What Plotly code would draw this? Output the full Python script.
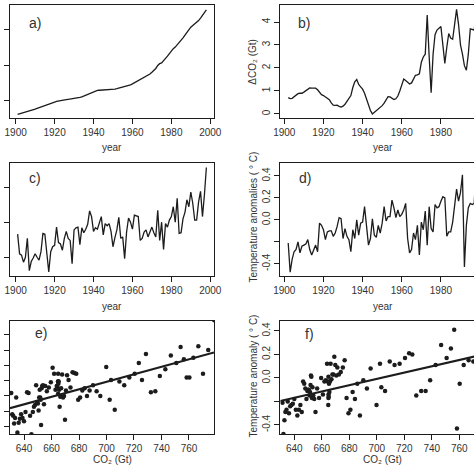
import numpy as np
import plotly.graph_objects as go

# ---------------- data ----------------
years = list(range(1901, 1999))          # panels a, c, e
years_d = list(range(1902, 1999))        # panels b, d, f

co2 = [630.7, 631.4, 632.1, 632.8, 633.5, 634.3, 635.2, 636.1, 637.0, 637.9,
       638.9, 640.0, 641.1, 642.2, 643.3, 644.4, 645.4, 646.4, 647.2, 648.0,
       648.8, 649.5, 650.1, 650.6, 651.0, 651.4, 651.8, 652.1, 652.4, 652.8,
       653.2, 653.8, 654.5, 655.4, 656.6, 658.0, 659.5, 660.8, 661.9, 662.9,
       663.8, 664.4, 664.7, 664.8, 664.8, 664.9, 665.0, 665.2, 665.5, 665.9,
       666.4, 667.0, 667.7, 668.4, 669.1, 669.8, 670.5, 671.3, 672.4, 673.8,
       675.3, 676.6, 678.0, 679.4, 680.8, 682.4, 684.1, 685.8, 687.7, 690.2,
       692.8, 695.5, 699.8, 702.3, 703.3, 706.0, 709.4, 712.9, 716.6, 720.5,
       723.5, 725.8, 728.7, 732.3, 735.5, 738.8, 742.8, 746.8, 750.8, 753.9,
       756.3, 758.3, 760.3, 763.2, 766.8, 770.2, 774.0, 778.4]

dco2 = [0.71, 0.67, 0.68, 0.74, 0.82, 0.88, 0.90, 0.90, 0.95, 1.02,
        1.08, 1.13, 1.12, 1.12, 1.12, 1.05, 0.95, 0.84, 0.80, 0.75,
        0.68, 0.62, 0.48, 0.38, 0.37, 0.38, 0.33, 0.30, 0.34, 0.42,
        0.55, 0.68, 0.80, 1.15, 1.40, 1.50, 1.28, 1.18, 1.08, 0.90,
        0.65, 0.38, 0.15, 0.00, 0.07, 0.12, 0.18, 0.26, 0.36, 0.47,
        0.60, 0.75, 0.74, 0.70, 0.63, 0.66, 0.78, 1.00, 1.30, 1.52,
        1.45, 1.38, 1.30, 1.35, 1.50, 1.68, 1.70, 1.75, 2.25, 2.48,
        2.60, 4.30, 2.50, 0.92, 2.60, 3.45, 3.65, 3.75, 3.80, 3.00,
        2.20, 2.90, 3.50, 3.30, 3.25, 3.90, 4.55, 3.90, 3.00, 2.60,
        2.10, 1.90, 2.60, 3.70, 3.68, 3.65, 4.40]

temp_c = [-0.16, -0.44, -0.46, -0.56, -0.49, -0.22, -0.68, -0.55, -0.50, -0.44,
          -0.49, -0.53, -0.41, -0.15, -0.16, -0.46, -0.70, -0.41, -0.34, -0.32,
          -0.06, -0.28, -0.30, -0.39, -0.22, -0.12, -0.22, -0.25, -0.58, -0.10,
          -0.07, -0.06, -0.31, -0.07, -0.14, -0.09, -0.02, 0.17, 0.09, -0.12,
          -0.07, -0.09, -0.01, 0.09, -0.17, -0.01, -0.04, -0.01, -0.12, -0.34,
          -0.21, -0.10, 0.08, -0.22, -0.20, -0.51, -0.13, 0.07, 0.01, -0.09,
          0.11, 0.10, 0.09, -0.25, -0.22, -0.13, -0.10, -0.20, -0.13, -0.06,
          -0.14, -0.20, 0.18, -0.25, 0.01, -0.38, -0.01, -0.06, 0.04, 0.09,
          0.23, 0.01, 0.35, -0.15, -0.14, 0.06, 0.15, 0.33, 0.23, 0.44,
          0.28, 0.04, 0.04, 0.30, 0.45, 0.09, 0.40, 0.79]

temp_d = [-0.21, -0.477, -0.36, -0.29, -0.27, -0.20, -0.30, -0.24, -0.23, -0.22,
          -0.18, -0.27, -0.32, -0.27, -0.23, -0.29, -0.03, -0.05, -0.09, -0.18,
          -0.11, -0.10, -0.10, -0.15, -0.12, -0.06, 0.02, 0.01, -0.17, -0.08,
          -0.15, -0.18, -0.29, -0.09, -0.17, 0.00, -0.14, -0.03, -0.02, 0.12,
          -0.03, -0.23, -0.17, 0.01, -0.14, -0.16, -0.05, -0.12, -0.03, 0.12,
          -0.01, 0.03, 0.03, 0.18, 0.11, 0.02, 0.09, 0.03, 0.05, 0.09,
          0.15, -0.17, -0.30, -0.27, -0.12, -0.18, -0.05, -0.32, -0.02, -0.09,
          0.08, -0.23, 0.12, -0.08, -0.11, 0.14, 0.11, 0.12, 0.17, 0.21,
          0.20, -0.15, -0.11, -0.11, -0.02, 0.11, 0.28, 0.17, 0.25, 0.41,
          -0.43, -0.05, 0.11, 0.15, 0.14, 0.15, 0.485]

year_ticks = [1900, 1920, 1940, 1960, 1980, 2000]
co2_ticks = [640, 660, 680, 700, 720, 740, 760]
co2_axis_ticks = [650, 700, 750]
dco2_ticks = [0, 1, 2, 3, 4]
c_ticks = [-0.5, 0.0, 0.5]
e_ticks = [-0.6, -0.4, -0.2, 0.0, 0.2, 0.4, 0.6]
d_ticks = [-0.4, 0.0, 0.2, 0.4]          # labelled ticks
d_ticktext = ["-0.4", "0.0", "0.2", "0.4"]
d_unlabelled = [-0.2]                    # tick drawn, label dropped (as in R)

# ---------------- figure ----------------
INK = "#1c1c1c"
TXT = "#333333"
FONT = "Liberation Sans, Arial, sans-serif"
FS = 10

co2_f = co2[1:]
fit_e = np.polyfit(co2, temp_c, 1)
fit_f = np.polyfit(co2_f, temp_d, 1)
co2_range = [629.8, 778.2]

fig = go.Figure()
line = dict(color=INK, width=1.3)
fig.add_trace(go.Scatter(x=years, y=co2, mode="lines", line=line, xaxis="x", yaxis="y"))
fig.add_trace(go.Scatter(x=years_d, y=dco2, mode="lines", line=line, xaxis="x2", yaxis="y2"))
fig.add_trace(go.Scatter(x=years, y=temp_c, mode="lines", line=line, xaxis="x3", yaxis="y3"))
fig.add_trace(go.Scatter(x=years_d, y=temp_d, mode="lines", line=line, xaxis="x4", yaxis="y4"))
fig.add_trace(go.Scatter(x=co2, y=temp_c, mode="markers", marker=dict(color=INK, size=4.5),
                         xaxis="x5", yaxis="y5"))
fig.add_trace(go.Scatter(x=co2_range, y=list(np.polyval(fit_e, co2_range)), mode="lines",
                         line=dict(color=INK, width=2.2), xaxis="x5", yaxis="y5"))
fig.add_trace(go.Scatter(x=co2_f, y=temp_d, mode="markers", marker=dict(color=INK, size=4.5),
                         xaxis="x6", yaxis="y6"))
fig.add_trace(go.Scatter(x=co2_range, y=list(np.polyval(fit_f, co2_range)), mode="lines",
                         line=dict(color=INK, width=2.2), xaxis="x6", yaxis="y6"))

W = H = 474
LEFT = [10 / W, 214 / W]
RIGHT = [280.3 / W, 1.0]
ROWS = [[1 - 118.3 / H, 1 - 5 / H], [1 - 276.3 / H, 1 - 163.3 / H], [1 - 434 / H, 1 - 321 / H]]


def ax(domain, rng, tickvals, anchor, mirror=True, ticktext=None, labels=True, angle=None,
       minor_vals=None):
    d = dict(domain=domain, range=rng, tickmode="array", tickvals=tickvals, anchor=anchor,
             showline=True, linecolor=INK, linewidth=1, mirror=mirror,
             ticks="outside", ticklen=5, tickwidth=1, tickcolor=INK,
             showgrid=False, zeroline=False, showticklabels=labels,
             tickfont=dict(family=FONT, size=FS, color=TXT), automargin=False)
    if ticktext is not None:
        d["ticktext"] = ticktext
    if angle is not None:
        d["tickangle"] = angle
    if minor_vals is not None:
        d["minor"] = dict(tickmode="array", tickvals=minor_vals, ticks="outside",
                          ticklen=5, tickwidth=1, tickcolor=INK, showgrid=False)
    return d


layout = dict(
    width=W, height=H, margin=dict(l=0, r=0, t=0, b=0),
    paper_bgcolor="white", plot_bgcolor="white", showlegend=False,
    xaxis=ax(LEFT, [1897.08, 2001.92], year_ticks, "y"),
    yaxis=ax(ROWS[0], [625.0, 785.3], co2_axis_ticks, "x", labels=False),
    xaxis2=ax(RIGHT, [1897.96, 1996.9], year_ticks, "y2"),
    yaxis2=ax(ROWS[0], [-0.19, 4.74], dco2_ticks, "x2", mirror=False, angle=-90),
    xaxis3=ax(LEFT, [1897.08, 2001.92], year_ticks, "y3"),
    yaxis3=ax(ROWS[1], [-0.761, 0.849], c_ticks, "x3", labels=False),
    xaxis4=ax(RIGHT, [1897.96, 1996.9], year_ticks, "y4"),
    yaxis4=ax(ROWS[1], [-0.514, 0.515], d_ticks, "x4", mirror=False, ticktext=d_ticktext,
              angle=-90, minor_vals=d_unlabelled),
    xaxis5=ax(LEFT, co2_range, co2_ticks, "y5"),
    yaxis5=ax(ROWS[2], [-0.698, 0.781], e_ticks, "x5", labels=False),
    xaxis6=ax(RIGHT, [629.8, 770.7], co2_ticks, "y6"),
    yaxis6=ax(ROWS[2], [-0.477, 0.485], d_ticks, "x6", mirror=False, ticktext=d_ticktext,
              angle=-90, minor_vals=d_unlabelled),
)
fig.update_layout(**layout)

def note(text, x, y, size=FS, angle=0):
    fig.add_annotation(text=text, x=x / W, y=1 - y / H, xref="paper", yref="paper",
                       showarrow=False, textangle=angle, xanchor="center", yanchor="middle",
                       font=dict(family=FONT, size=size, color=TXT))

# panel letters
for lab, x, y in [("a)", 35, 23), ("b)", 304, 23), ("c)", 35, 178),
                  ("d)", 305, 178), ("e)", 41, 333), ("f)", 309, 334)]:
    note(lab, x, y, size=14)

# axis titles
note("year", 112, 147)
note("year", 382.5, 147)
note("year", 112, 306.5)
note("year", 382.5, 306.5)
note("CO₂ (Gt)", 112, 459.5)
note("CO₂ (Gt)", 382.5, 459.5)
note("ΔCO₂ (Gt)", 253, 61.7, angle=-90)
note("Temperature anomalies ( ° C)", 252.5, 217, angle=-90)
note("Temperature anomaly ( ° C)", 252.5, 376, angle=-90)

fig.write_html("out.html")
